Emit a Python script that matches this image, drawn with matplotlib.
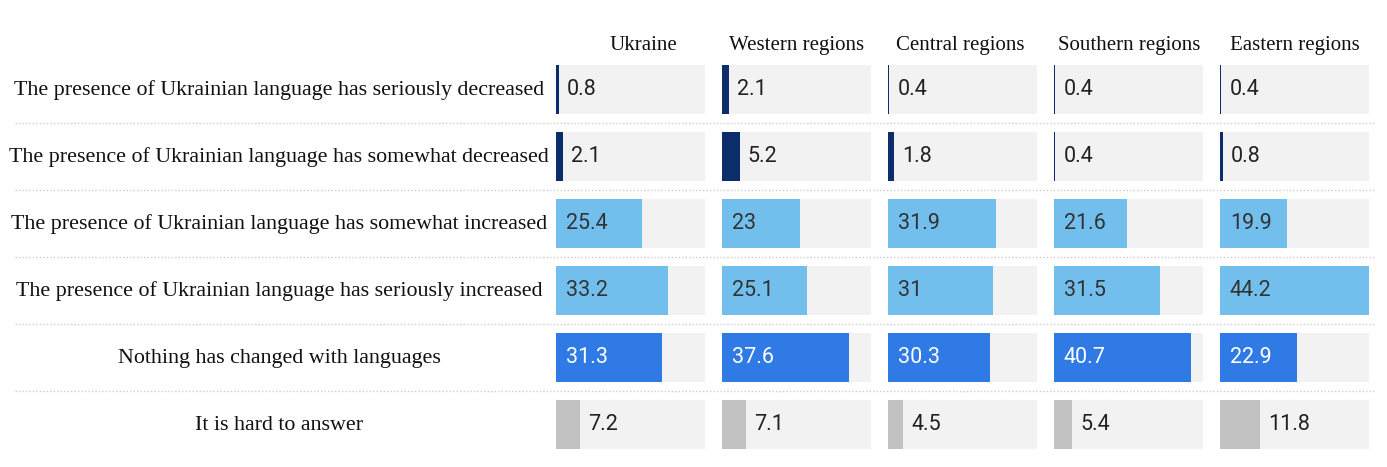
import matplotlib.pyplot as plt
from matplotlib.lines import Line2D

regions = ['Ukraine', 'Western regions', 'Central regions', 'Southern regions', 'Eastern regions']
answers = [
    'The presence of Ukrainian language has seriously decreased',
    'The presence of Ukrainian language has somewhat decreased',
    'The presence of Ukrainian language has somewhat increased',
    'The presence of Ukrainian language has seriously increased',
    'Nothing has changed with languages',
    'It is hard to answer',
]
# values per answer, in region order
seriously_decreased = [0.8, 2.1, 0.4, 0.4, 0.4]
somewhat_decreased = [2.1, 5.2, 1.8, 0.4, 0.8]
somewhat_increased = [25.4, 23, 31.9, 21.6, 19.9]
seriously_increased = [33.2, 25.1, 31, 31.5, 44.2]
nothing_changed = [31.3, 37.6, 30.3, 40.7, 22.9]
hard_to_answer = [7.2, 7.1, 4.5, 5.4, 11.8]

rows = [seriously_decreased, somewhat_decreased, somewhat_increased,
        seriously_increased, nothing_changed, hard_to_answer]
colors = ['#0b2d6c', '#0b2d6c', '#72bfee', '#72bfee', '#2f7ae5', '#c2c2c2']
inside = [False, False, True, True, True, False]
text_col = ['#222222', '#222222', '#333333', '#333333', '#ffffff', '#222222']

W, H = 1387, 467
fig = plt.figure(figsize=(W / 100, H / 100), dpi=100)

vmax = max(max(r) for r in rows)
col_left = [556, 722, 888, 1054, 1220]
head_x = [643, 797, 960, 1129, 1295]
col_w = 149
top, row_h = 56, 67
n = len(answers)

for j, reg in enumerate(regions):
    ax = fig.add_axes([col_left[j] / W, 1 - (top + n * row_h) / H, col_w / W, n * row_h / H])
    ax.set_xlim(0, vmax)
    ax.set_ylim(n - 0.5, -0.5)
    ax.axis('off')
    for i in range(n):
        v = rows[i][j]
        ax.barh(i, vmax, height=0.72, color='#f2f2f2', zorder=1)
        ax.barh(i, v, height=0.72, color=colors[i], zorder=2)
        if inside[i]:
            ax.annotate(f'{v:g}', (0, i), xytext=(10, 0), textcoords='offset pixels',
                        va='center', ha='left', fontsize=15.5, family='Roboto',
                        color=text_col[i], zorder=3)
        else:
            ax.annotate(f'{v:g}', (v, i), xytext=(8, 0), textcoords='offset pixels',
                        va='center', ha='left', fontsize=15.5, family='Roboto',
                        color=text_col[i], zorder=3)
    fig.text(head_x[j] / W, 1 - 45 / H, reg, ha='center', va='center',
             fontsize=15, family='Liberation Serif', color='#111111')

for i, lab in enumerate(answers):
    fig.text(279 / W, 1 - (top + row_h * i + row_h / 2 + 1) / H, lab, ha='center', va='center',
             fontsize=15.8, family='Liberation Serif', color='#111111')
    if i < n - 1:
        y = 1 - (top + row_h * (i + 1)) / H
        fig.add_artist(Line2D([15 / W, 1375 / W], [y, y], transform=fig.transFigure,
                              color='#cccccc', lw=1, ls=(0, (1, 1.5))))

fig.savefig('out.png', dpi=100)
